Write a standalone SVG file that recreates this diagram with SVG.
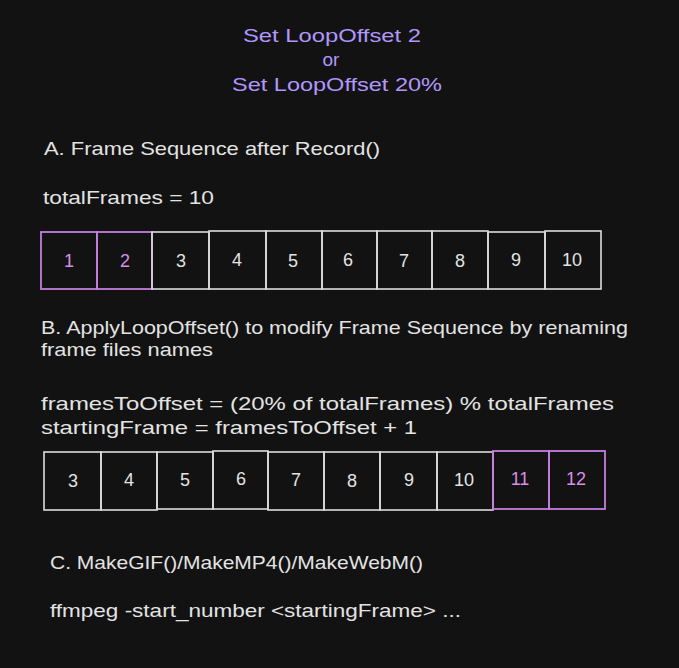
<svg xmlns="http://www.w3.org/2000/svg" width="679" height="668" viewBox="0 0 679 668">
<style>
text{font-family:"Liberation Sans","DejaVu Sans",sans-serif;fill:#e3e3e3;font-size:19px}
.t{fill:#b197fc;text-anchor:middle}
.n{text-anchor:middle;font-size:18px}
.pn{fill:#d98ee8}
rect.b{fill:none;stroke:#dcdcdc;stroke-width:1.6}
rect.p{fill:none;stroke:#c77ddf;stroke-width:1.8}
</style>
<rect width="679" height="668" fill="#121212"/>
<g id="title">
<text class="t" x="332" y="42" textLength="178" lengthAdjust="spacingAndGlyphs">Set LoopOffset 2</text>
<text class="t" x="331" y="66">or</text>
<text class="t" x="337" y="91" textLength="210" lengthAdjust="spacingAndGlyphs">Set LoopOffset 20%</text>
</g>
<g id="sectionA">
<text x="44" y="155" textLength="336" lengthAdjust="spacingAndGlyphs">A. Frame Sequence after Record()</text>
<text x="43" y="204" textLength="171" lengthAdjust="spacingAndGlyphs">totalFrames = 10</text>
</g>
<g id="row1">
<g id="r1-1"><rect class="p" x="41" y="232" width="56" height="57"/><text class="n pn" x="69" y="267">1</text></g>
<g id="r1-2"><rect class="p" x="97" y="232" width="55" height="57"/><text class="n pn" x="125" y="267">2</text></g>
<g id="r1-3"><rect class="b" x="152" y="232" width="57" height="57"/><text class="n" x="181" y="267">3</text></g>
<g id="r1-4"><rect class="b" x="209" y="231" width="57" height="58"/><text class="n" x="237" y="266">4</text></g>
<g id="r1-5"><rect class="b" x="266" y="231" width="56" height="58"/><text class="n" x="293" y="267">5</text></g>
<g id="r1-6"><rect class="b" x="322" y="231" width="55" height="58"/><text class="n" x="348" y="266">6</text></g>
<g id="r1-7"><rect class="b" x="377" y="231" width="55" height="58"/><text class="n" x="404" y="267">7</text></g>
<g id="r1-8"><rect class="b" x="432" y="231" width="56" height="58"/><text class="n" x="460" y="267">8</text></g>
<g id="r1-9"><rect class="b" x="488" y="232" width="57" height="57"/><text class="n" x="516" y="266">9</text></g>
<g id="r1-10"><rect class="b" x="545" y="231" width="56" height="58"/><text class="n" x="572" y="266">10</text></g>
</g>
<g id="sectionB">
<text x="41" y="334" textLength="587" lengthAdjust="spacingAndGlyphs">B. ApplyLoopOffset() to modify Frame Sequence by renaming</text>
<text x="41" y="356" textLength="172" lengthAdjust="spacingAndGlyphs">frame files names</text>
<text x="41" y="410" textLength="573" lengthAdjust="spacingAndGlyphs">framesToOffset = (20% of totalFrames) % totalFrames</text>
<text x="41" y="434" textLength="376" lengthAdjust="spacingAndGlyphs">startingFrame = framesToOffset + 1</text>
</g>
<g id="row2">
<g id="r2-3"><rect class="b" x="44" y="452" width="57" height="58"/><text class="n" x="73" y="487">3</text></g>
<g id="r2-4"><rect class="b" x="101" y="452" width="56" height="58"/><text class="n" x="129" y="486">4</text></g>
<g id="r2-5"><rect class="b" x="157" y="452" width="56" height="57"/><text class="n" x="185" y="486">5</text></g>
<g id="r2-6"><rect class="b" x="213" y="451" width="55" height="58"/><text class="n" x="241" y="485">6</text></g>
<g id="r2-7"><rect class="b" x="268" y="452" width="56" height="58"/><text class="n" x="296" y="486">7</text></g>
<g id="r2-8"><rect class="b" x="324" y="452" width="56" height="58"/><text class="n" x="352" y="487">8</text></g>
<g id="r2-9"><rect class="b" x="380" y="452" width="57" height="58"/><text class="n" x="409" y="486">9</text></g>
<g id="r2-10"><rect class="b" x="437" y="452" width="56" height="58"/><text class="n" x="464" y="486">10</text></g>
<g id="r2-11"><rect class="p" x="493" y="451" width="56" height="58"/><text class="n pn" x="520" y="485">11</text></g>
<g id="r2-12"><rect class="p" x="549" y="451" width="56" height="58"/><text class="n pn" x="576" y="485">12</text></g>
</g>
<g id="sectionC">
<text x="50" y="569" textLength="373" lengthAdjust="spacingAndGlyphs">C. MakeGIF()/MakeMP4()/MakeWebM()</text>
<text x="50" y="617" textLength="411" lengthAdjust="spacingAndGlyphs">ffmpeg -start_number &lt;startingFrame&gt; ...</text>
</g>
<g id="connectors"/>
</svg>
